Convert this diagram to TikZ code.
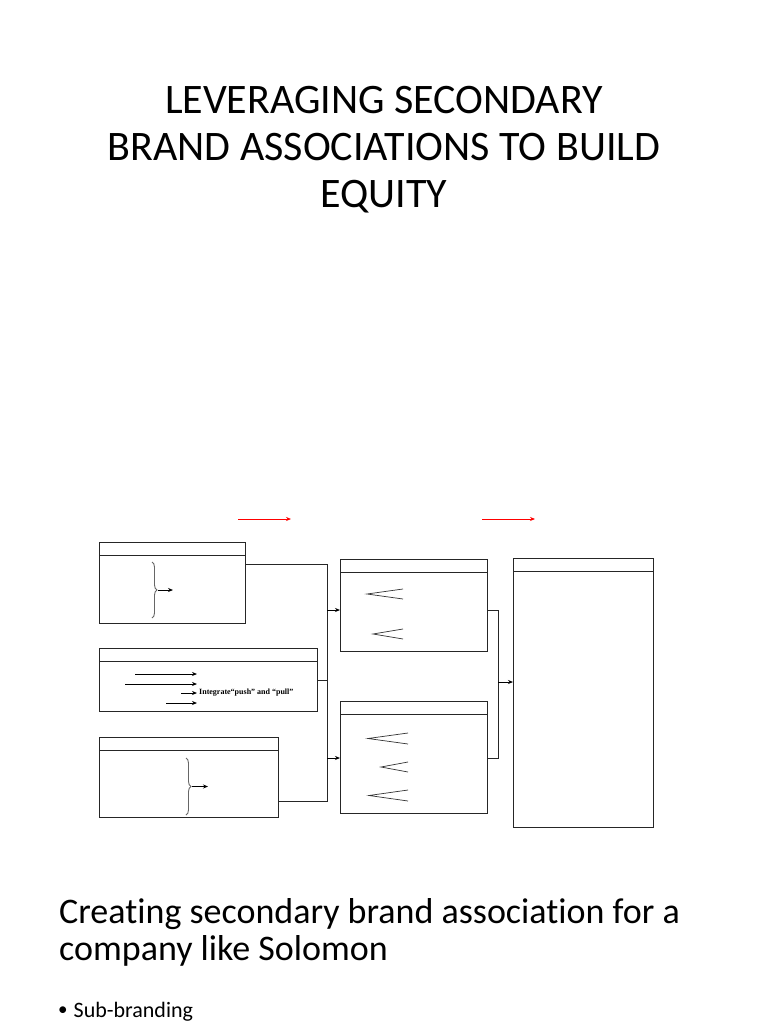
\documentclass[tikz,border=0pt]{standalone}
\usepackage{fontspec}
\setmainfont{Carlito}[Ligatures=NoCommon]
\newfontfamily\seriffont{Liberation Serif}
\usetikzlibrary{arrows.meta,decorations.pathreplacing}
\tikzset{
  box/.style={draw=black!85, line width=1pt, rectangle, inner sep=0pt, anchor=north west},
  conn/.style={draw=black!85, line width=1pt},
  arr/.style={draw=black, line width=0.9pt, -{Stealth[length=5pt,width=4pt]}},
  redarr/.style={draw=red, line width=0.8pt, -{Stealth[length=5pt,width=4pt]}},
  chev/.style={draw=black!80, line width=0.7pt},
  brc/.style={draw=black!60, line width=0.9pt, decorate, decoration={brace, amplitude=5pt}},
  title/.style={font=\fontsize{42}{47}\selectfont, align=center, inner sep=0pt},
}
\newcommand{\hdr}[1]{\draw[conn] ([yshift=-13pt]#1.north west) -- ([yshift=-13pt]#1.north east);}
\begin{document}
\begin{tikzpicture}[x=1pt,y=-1pt]
\useasboundingbox[fill=white] (0,0) rectangle (768,1024);
% title
\node[title, anchor=base] (t1) at (384,114) {LEVERAGING SECONDARY};
\node[title, anchor=base] (t2) at (384,161) {BRAND ASSOCIATIONS TO BUILD};
\node[title, anchor=base] (t3) at (384,208) {EQUITY};
% red arrows
\coordinate (r1s) at (238,519); \coordinate (r1e) at (291,519);
\coordinate (r2s) at (482,519); \coordinate (r2e) at (535,519);
\draw[redarr] (r1s) -- (r1e);
\draw[redarr] (r2s) -- (r2e);
% boxes
\node[box, minimum width=146pt, minimum height=81pt] (A) at (99,542) {};
\node[box, minimum width=218pt, minimum height=63pt] (B) at (99,648) {};
\node[box, minimum width=179pt, minimum height=80pt] (C) at (99,737) {};
\node[box, minimum width=147pt, minimum height=92pt] (D) at (340,559) {};
\node[box, minimum width=147pt, minimum height=112pt] (E) at (340,701) {};
\node[box, minimum width=140pt, minimum height=269pt] (F) at (513,558) {};
\hdr{A}\hdr{B}\hdr{C}\hdr{D}\hdr{E}\hdr{F}
% braces in A and C
\draw[brc] (152,562) -- (152,618);
\coordinate (ba) at (158,590); \coordinate (bae) at (173,590);
\draw[arr] (ba) -- (bae);
\draw[brc] (186,758) -- (186,815);
\coordinate (bc) at (192,786.5); \coordinate (bce) at (208,786.5);
\draw[arr] (bc) -- (bce);
% arrows in B
\coordinate (b1s) at (135,674); \coordinate (b1e) at (197,674);
\coordinate (b2s) at (125,684); \coordinate (b2e) at (197,684);
\coordinate (b3s) at (181,693); \coordinate (b3e) at (197,693);
\coordinate (b4s) at (166,703); \coordinate (b4e) at (197,703);
\draw[arr] (b1s) -- (b1e);
\draw[arr] (b2s) -- (b2e);
\draw[arr] (b3s) -- (b3e);
\draw[arr] (b4s) -- (b4e);
\node[anchor=west, inner sep=0pt, font=\seriffont\bfseries\fontsize{8}{9}\selectfont] (pp) at (199,693) {Integrate“push” and “pull”};
% chevrons in D and E
\draw[chev] (403,589) -- (367,594) -- (403,599);
\draw[chev] (403,629) -- (373,634) -- (403,639);
\draw[chev] (408,733) -- (368,738.5) -- (408,744);
\draw[chev] (408,762) -- (381,767) -- (408,772);
\draw[chev] (408,790) -- (369,795.5) -- (408,801);
% left bus
\coordinate (lt) at (327,564); \coordinate (lm) at (327,680); \coordinate (lb) at (327,801);
\coordinate (ld) at (327,610); \coordinate (le) at (327,758);
\draw[conn] (A.east |- lt) -- (lt) -- (lb) -- (C.east |- lb);
\draw[conn] (B.east |- lm) -- (lm);
\draw[arr] (ld) -- (D.west |- ld);
\draw[arr] (le) -- (E.west |- le);
% right bus
\coordinate (rt) at (498,610); \coordinate (rb) at (498,758); \coordinate (rm) at (498,682);
\draw[conn] (D.east |- rt) -- (rt) -- (rb) -- (E.east |- rb);
\draw[arr] (rm) -- (F.west |- rm);
% bottom text
\node[anchor=base west, inner sep=0pt, align=left, font=\fontsize{36}{37}\selectfont] (h1) at (59,923) {Creating secondary brand association for a};
\node[anchor=base west, inner sep=0pt, align=left, font=\fontsize{36}{37}\selectfont] (h2) at (59,960) {company like Solomon};
\node[anchor=base west, inner sep=0pt, font=\fontsize{22}{24}\selectfont] (s1) at (58,1017) {\raisebox{1.5pt}{\fontsize{19}{20}\selectfont •}\hspace{6pt}Sub-branding};
\end{tikzpicture}
\end{document}
